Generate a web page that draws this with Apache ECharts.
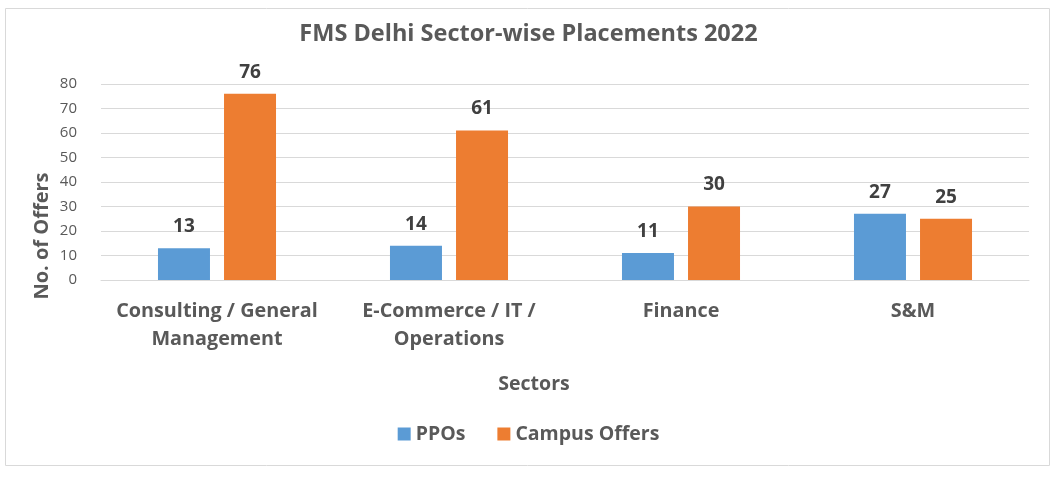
<!DOCTYPE html>
<html><head><meta charset="utf-8">
<script src="https://cdn.jsdelivr.net/npm/echarts@6/dist/echarts.min.js"></script>
<style>html,body{margin:0;padding:0;background:#fff}#c{width:1057px;height:478px}</style>
</head><body><div id="c"></div>
<script>
const categories = ['Consulting / General\nManagement', 'E-Commerce / IT /\nOperations', 'Finance', 'S&M'];
const ppos = [13, 14, 11, 27];
const campusOffers = [76, 61, 30, 25];
const yTicks = [0, 10, 20, 30, 40, 50, 60, 70, 80];

const FONT = '"Open Sans", "Noto Sans", sans-serif';
const chart = echarts.init(document.getElementById('c'));
const labelStyle = {show: true, position: 'top', distance: 12, fontFamily: FONT, fontWeight: 'bold', fontSize: 19, color: '#404040'};
chart.setOption({
  animation: false,
  title: {text: 'FMS Delhi Sector-wise Placements 2022', left: 'center', top: 17,
    textStyle: {fontFamily: FONT, fontWeight: 'bold', fontSize: 23.5, color: '#595959'}},
  graphic: [
    {type: 'rect', shape: {x: 5.5, y: 8.5, width: 1044, height: 457}, style: {fill: 'none', stroke: '#d9d9d9', lineWidth: 1}, silent: true, z: -1},
    {type: 'text', x: 42, y: 236, rotation: Math.PI / 2, style: {text: 'No. of Offers', fontFamily: FONT, fontWeight: 'bold', fontSize: 20, fill: '#595959', align: 'center', verticalAlign: 'middle'}},
    {type: 'text', x: 534, y: 384, style: {text: 'Sectors', fontFamily: FONT, fontWeight: 'bold', fontSize: 19.5, fill: '#595959', align: 'center', verticalAlign: 'middle'}}
  ],
  legend: {bottom: 29, left: 'center', itemWidth: 13, itemHeight: 13, itemGap: 32,
    icon: 'rect', textStyle: {fontFamily: FONT, fontWeight: 'bold', fontSize: 19.5, color: '#595959'}},
  grid: {left: 101, right: 28, top: 84, bottom: 198},
  xAxis: {type: 'category', data: categories,
    axisLine: {lineStyle: {color: '#d9d9d9'}}, axisTick: {show: false},
    axisLabel: {fontFamily: FONT, fontWeight: 'bold', fontSize: 19.8, color: '#595959', lineHeight: 28, margin: 17, interval: 0}},
  yAxis: {type: 'value', min: yTicks[0], max: yTicks[yTicks.length - 1], interval: 10,
    axisLine: {show: false}, axisTick: {show: false},
    splitLine: {lineStyle: {color: '#d9d9d9'}},
    axisLabel: {fontFamily: FONT, fontSize: 15, color: '#595959', margin: 24}},
  series: [
    {name: 'PPOs', type: 'bar', data: ppos, barWidth: 52, barGap: '27%', itemStyle: {color: '#5B9BD5'}, label: labelStyle},
    {name: 'Campus Offers', type: 'bar', data: campusOffers, barWidth: 52, itemStyle: {color: '#ED7D31'}, label: labelStyle}
  ]
});
</script></body></html>
